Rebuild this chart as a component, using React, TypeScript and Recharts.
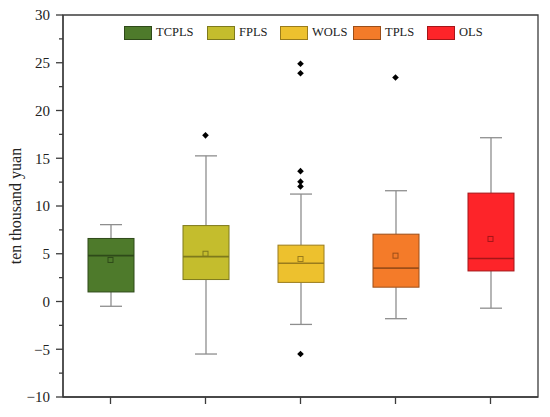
import React from "react";
import {
  ComposedChart,
  Bar,
  Scatter,
  XAxis,
  YAxis,
  Legend,
  ReferenceArea,
} from "recharts";

const categories = ["TCPLS", "FPLS", "WOLS", "TPLS", "OLS"];
const whiskerLow = [-0.5, -5.5, -2.4, -1.8, -0.7];
const q1 = [1.0, 2.3, 2.0, 1.5, 3.2];
const median = [4.8, 4.7, 4.0, 3.5, 4.5];
const q3 = [6.6, 7.95, 5.9, 7.05, 11.35];
const whiskerHigh = [8.05, 15.25, 11.25, 11.6, 17.15];
const means = [4.35, 5.0, 4.45, 4.8, 6.55];

const outlierNames = ["FPLS", "WOLS", "WOLS", "WOLS", "WOLS", "WOLS", "WOLS", "TPLS"];
const outlierValues = [17.4, 24.9, 23.9, 13.65, 12.55, 12.05, -5.5, 23.45];

const yTicks = [-10, -7.5, -5, -2.5, 0, 2.5, 5, 7.5, 10, 12.5, 15, 17.5, 20, 22.5, 25, 27.5, 30];

const fills = ["#4e7a2b", "#c4bd2d", "#edc12e", "#f47b29", "#fd2429"];
const strokes = ["#2e4a19", "#7e7a1c", "#9a7c1c", "#9c4e18", "#a51518"];

const FONT = "'Liberation Serif', 'Times New Roman', serif";
const AXIS = "#3c3c3c";
const WHISKER = "#8e8e8e";

const data = categories.map((name, i) => ({
  name,
  low: whiskerLow[i],
  q1: q1[i],
  median: median[i],
  q3: q3[i],
  high: whiskerHigh[i],
  mean: means[i],
}));

const outlierData = outlierNames.map((name, i) => ({ name, value: outlierValues[i] }));

function BoxShape(props: any) {
  const { x, y, width, height, payload, index } = props;
  const { low, high } = payload;
  const unit = height / (high - low);
  const py = (v: number) => y + (high - v) * unit;
  const cx = x + width / 2;
  const cap = 11;
  return (
    <g>
      <line x1={cx} x2={cx} y1={py(high)} y2={py(payload.q3)} stroke={WHISKER} strokeWidth={1.3} />
      <line x1={cx} x2={cx} y1={py(payload.q1)} y2={py(low)} stroke={WHISKER} strokeWidth={1.3} />
      <line x1={cx - cap} x2={cx + cap} y1={py(high)} y2={py(high)} stroke={WHISKER} strokeWidth={1.3} />
      <line x1={cx - cap} x2={cx + cap} y1={py(low)} y2={py(low)} stroke={WHISKER} strokeWidth={1.3} />
      <rect
        x={x}
        y={py(payload.q3)}
        width={width}
        height={py(payload.q1) - py(payload.q3)}
        fill={fills[index]}
        stroke={strokes[index]}
        strokeWidth={1}
      />
      <line
        x1={x}
        x2={x + width}
        y1={py(payload.median)}
        y2={py(payload.median)}
        stroke={strokes[index]}
        strokeWidth={1.6}
      />
    </g>
  );
}

function MeanShape(props: any) {
  const { cx, cy, payload } = props;
  const i = categories.indexOf(payload.name);
  return <rect x={cx - 2.5} y={cy - 2.5} width={5} height={5} fill="none" stroke={strokes[i]} strokeWidth={1} />;
}

function OutlierShape(props: any) {
  const { cx, cy } = props;
  const r = 3.3;
  return (
    <polygon
      points={`${cx},${cy - r} ${cx + r},${cy} ${cx},${cy + r} ${cx - r},${cy}`}
      fill="#000"
    />
  );
}

function YTick(props: any) {
  const { x, y, payload } = props;
  const v = payload.value as number;
  const major = v % 5 === 0;
  const label = v < 0 ? "\u2212" + Math.abs(v) : String(v);
  return (
    <g>
      <line x1={x} x2={x - (major ? 7 : 4)} y1={y} y2={y} stroke={AXIS} strokeWidth={1.3} />
      {major && (
        <text x={x - 13} y={y} dy="0.35em" textAnchor="end" fontSize={15} fontFamily={FONT} fill="#222">
          {label}
        </text>
      )}
    </g>
  );
}

function XTick(props: any) {
  const { x, y } = props;
  return <line x1={x} x2={x} y1={y} y2={y + 7} stroke={AXIS} strokeWidth={1.3} />;
}

const legendWidths = [83, 73, 73, 74, 60];

function LegendContent() {
  return (
    <div style={{ display: "flex", fontFamily: FONT, fontSize: 12.5, color: "#222" }}>
      {categories.map((name, i) => (
        <div key={name} style={{ display: "flex", alignItems: "center", width: legendWidths[i] }}>
          <div
            style={{
              width: 26,
              height: 12,
              background: fills[i],
              border: `1px solid ${strokes[i]}`,
              marginRight: 4,
            }}
          />
          <span>{name}</span>
        </div>
      ))}
    </div>
  );
}

export default function App() {
  return (
    <div style={{ position: "absolute", left: 0, top: 0, width: 550, height: 417, background: "#fff" }}>
      <ComposedChart width={550} height={417} data={data} margin={{ top: 15, right: 12, bottom: 0, left: 0 }}>
        <XAxis
          dataKey="name"
          type="category"
          allowDuplicatedCategory={false}
          height={20}
          tickSize={0}
          tickMargin={0}
          tick={<XTick />}
          tickLine={false}
          axisLine={{ stroke: AXIS, strokeWidth: 1.3 }}
        />
        <YAxis
          type="number"
          domain={[-10, 30]}
          ticks={yTicks}
          interval={0}
          width={63}
          tickSize={0}
          tickMargin={0}
          tick={<YTick />}
          tickLine={false}
          axisLine={{ stroke: AXIS, strokeWidth: 1.3 }}
          label={{
            content: (p: any) => {
              const vb = p.viewBox;
              const cx = vb.x + 15;
              const cy = vb.y + vb.height / 2;
              return (
                <text
                  x={cx}
                  y={cy}
                  transform={`rotate(-90 ${cx} ${cy})`}
                  textAnchor="middle"
                  dominantBaseline="central"
                  fontSize={16}
                  fontFamily={FONT}
                  fill="#222"
                >
                  ten thousand yuan
                </text>
              );
            },
          }}
        />
        <ReferenceArea y1={-10} y2={30} fill="none" stroke={AXIS} strokeWidth={1.3} ifOverflow="visible" />
        <Legend
          layout="horizontal"
          verticalAlign="middle"
          content={<LegendContent />}
          wrapperStyle={{ position: "absolute", top: 25, left: 124, width: 420 }}
        />
        <Bar
          dataKey={(d: any) => [d.low, d.high]}
          barSize={46}
          shape={<BoxShape />}
          isAnimationActive={false}
        />
        <Scatter dataKey="mean" shape={<MeanShape />} isAnimationActive={false} />
        <Scatter data={outlierData} dataKey="value" shape={<OutlierShape />} isAnimationActive={false} />
      </ComposedChart>
    </div>
  );
}
